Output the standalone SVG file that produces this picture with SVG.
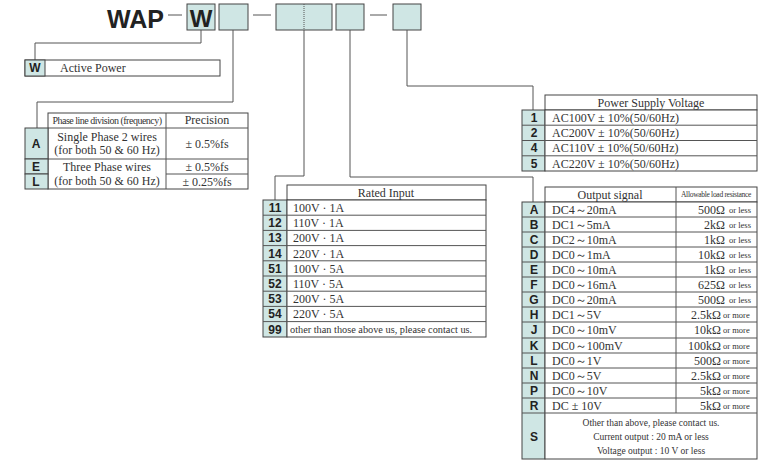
<svg xmlns="http://www.w3.org/2000/svg" width="768" height="469" viewBox="0 0 768 469">
<style>
.c{fill:#cfe6e4;stroke:#444;stroke-width:1}
.b{fill:#fff;stroke:#444;stroke-width:1}
.l{fill:none;stroke:#555;stroke-width:1}
.k{font-family:"Liberation Sans",Arial,sans-serif;font-weight:bold;font-size:12px;fill:#222;text-anchor:middle}
.t{font-family:"Liberation Serif","Times New Roman",serif;font-size:12px;fill:#333}
.m{text-anchor:middle}
</style>
<rect width="768" height="469" fill="#fff"/>
<g id="code">
<text x="107" y="28" font-family="Liberation Sans,Arial,sans-serif" font-weight="bold" font-size="25" fill="#222">WAP</text>
<line x1="168" y1="15" x2="182" y2="15" class="l"/>
<rect x="187" y="4" width="28" height="26" class="c"/>
<text x="201" y="27" font-family="Liberation Sans,Arial,sans-serif" font-weight="bold" font-size="24" fill="#222" text-anchor="middle">W</text>
<rect x="219" y="4" width="29" height="26" class="c"/>
<line x1="253" y1="15" x2="271" y2="15" class="l"/>
<rect x="276" y="4" width="56" height="26" class="c"/>
<line x1="304" y1="4" x2="304" y2="30" stroke="#555" stroke-dasharray="1,1"/>
<rect x="336" y="4" width="28" height="26" class="c"/>
<line x1="370" y1="15" x2="387" y2="15" class="l"/>
<rect x="393" y="4" width="28" height="26" class="c"/>
</g>
<g id="connectors">
<polyline points="201,30 201,43 35,43 35,60" class="l"/>
<polyline points="233,30 233,102 37,102 37,128" class="l"/>
<polyline points="304,30 304,176 275,176 275,200" class="l"/>
<polyline points="350,30 350,177 533,177 533,202" class="l"/>
<polyline points="407,30 407,86 533,86 533,110" class="l"/>
</g>
<g id="w-table">
<rect x="25" y="60" width="195" height="16" class="b"/>
<rect x="25" y="60" width="20" height="16" class="c"/>
<text x="35" y="72" class="k">W</text>
<text x="60" y="72" class="t">Active Power</text>
</g>
<g id="phase-table">
<rect x="48" y="113" width="200" height="76" class="b"/>
<line x1="48" y1="128" x2="248" y2="128" class="l"/>
<line x1="166" y1="113" x2="166" y2="189" class="l"/>
<line x1="48" y1="159" x2="248" y2="159" class="l"/>
<line x1="166" y1="174" x2="248" y2="174" class="l"/>
<rect x="25" y="128" width="23" height="31" class="c"/>
<rect x="25" y="159" width="23" height="15" class="c"/>
<rect x="25" y="174" width="23" height="15" class="c"/>
<text x="36" y="148" class="k">A</text>
<text x="36" y="171" class="k">E</text>
<text x="36" y="186" class="k">L</text>
<text x="107" y="124" class="t m" style="font-size:10px;letter-spacing:-0.5px">Phase line division (frequency)</text>
<text x="207" y="124" class="t m">Precision</text>
<text x="107" y="141" class="t m">Single Phase 2 wires</text>
<text x="107" y="154" class="t m">(for both 50 &amp; 60 Hz)</text>
<text x="207" y="148" class="t m">± 0.5%fs</text>
<text x="107" y="171" class="t m">Three Phase wires</text>
<text x="107" y="185" class="t m">(for both 50 &amp; 60 Hz)</text>
<text x="207" y="171" class="t m">± 0.5%fs</text>
<text x="207" y="186" class="t m">± 0.25%fs</text>
</g>
<g id="rated-input">
<rect x="287" y="185" width="199" height="15" class="b"/>
<text x="386" y="197" class="t m">Rated Input</text>
<rect x="263" y="200" width="24" height="137" class="c"/>
<rect x="287" y="200" width="199" height="137" class="b"/>
<path d="M263 215.2H486M263 230.4H486M263 245.6H486M263 260.8H486M263 276H486M263 291.2H486M263 306.4H486M263 321.6H486" class="l"/>
<g class="k"><text x="275" y="212">11</text><text x="275" y="227">12</text><text x="275" y="242">13</text><text x="275" y="258">14</text><text x="275" y="273">51</text><text x="275" y="288">52</text><text x="275" y="303">53</text><text x="275" y="318">54</text><text x="275" y="334">99</text></g>
<g class="t"><text x="293" y="212">100V · 1A</text><text x="293" y="227">110V · 1A</text><text x="293" y="242">200V · 1A</text><text x="293" y="258">220V · 1A</text><text x="293" y="273">100V · 5A</text><text x="293" y="288">110V · 5A</text><text x="293" y="303">200V · 5A</text><text x="293" y="318">220V · 5A</text><text x="290" y="333" style="font-size:10.3px">other than those above us, please contact us.</text></g>
</g>
<g id="power-supply">
<rect x="545" y="95" width="212" height="15" class="b"/>
<text x="651" y="107" class="t m">Power Supply Voltage</text>
<rect x="522" y="110" width="23" height="61" class="c"/>
<rect x="545" y="110" width="212" height="61" class="b"/>
<path d="M522 125.2H757M522 140.5H757M522 155.8H757" class="l"/>
<g class="k"><text x="534" y="122">1</text><text x="534" y="137">2</text><text x="534" y="152">4</text><text x="534" y="168">5</text></g>
<g class="t"><text x="552" y="122">AC100V ± 10%(50/60Hz)</text><text x="552" y="137">AC200V ± 10%(50/60Hz)</text><text x="552" y="152">AC110V ± 10%(50/60Hz)</text><text x="552" y="168">AC220V ± 10%(50/60Hz)</text></g>
</g>
<g id="output-signal">
<rect x="545" y="187" width="212" height="15" class="b"/>
<text x="610" y="199" class="t m">Output signal</text>
<text x="716" y="197" class="t m" style="font-size:7.5px;letter-spacing:-0.3px">Allowable load resistance</text>
<rect x="522" y="202" width="23" height="257" class="c"/>
<rect x="545" y="202" width="212" height="257" class="b"/>
<line x1="676" y1="187" x2="676" y2="413" class="l"/>
<path d="M522 217H757M522 232H757M522 247H757M522 262H757M522 277H757M522 292H757M522 307H757M522 322H757M522 338H757M522 353H757M522 368H757M522 383H757M522 398H757M522 413H757" class="l"/>
<g class="k"><text x="534" y="214">A</text><text x="534" y="229">B</text><text x="534" y="244">C</text><text x="534" y="259">D</text><text x="534" y="274">E</text><text x="534" y="289">F</text><text x="534" y="304">G</text><text x="534" y="319">H</text><text x="534" y="334">J</text><text x="534" y="350">K</text><text x="534" y="365">L</text><text x="534" y="380">N</text><text x="534" y="395">P</text><text x="534" y="410">R</text><text x="534" y="441">S</text></g>
<g class="t"><text x="552" y="214">DC4～20mA</text><text x="552" y="229">DC1～5mA</text><text x="552" y="244">DC2～10mA</text><text x="552" y="259">DC0～1mA</text><text x="552" y="274">DC0～10mA</text><text x="552" y="289">DC0～16mA</text><text x="552" y="304">DC0～20mA</text><text x="552" y="319">DC1～5V</text><text x="552" y="334">DC0～10mV</text><text x="552" y="350">DC0～100mV</text><text x="552" y="365">DC0～1V</text><text x="552" y="380">DC0～5V</text><text x="552" y="395">DC0～10V</text><text x="552" y="410">DC ± 10V</text></g>
<g class="t" text-anchor="end"><text x="725" y="214">500Ω</text><text x="725" y="229">2kΩ</text><text x="725" y="244">1kΩ</text><text x="725" y="259">10kΩ</text><text x="725" y="274">1kΩ</text><text x="725" y="289">625Ω</text><text x="725" y="304">500Ω</text><text x="721" y="319">2.5kΩ</text><text x="721" y="334">10kΩ</text><text x="721" y="350">100kΩ</text><text x="721" y="365">500Ω</text><text x="721" y="380">2.5kΩ</text><text x="721" y="395">5kΩ</text><text x="721" y="410">5kΩ</text></g>
<g class="t" style="font-size:8.5px"><text x="729" y="213">or less</text><text x="729" y="228">or less</text><text x="729" y="243">or less</text><text x="729" y="258">or less</text><text x="729" y="273">or less</text><text x="729" y="288">or less</text><text x="729" y="303">or less</text><text x="723" y="318">or more</text><text x="723" y="333">or more</text><text x="723" y="349">or more</text><text x="723" y="364">or more</text><text x="723" y="379">or more</text><text x="723" y="394">or more</text><text x="723" y="409">or more</text></g>
<g class="t m" style="font-size:9.5px"><text x="651" y="426">Other than above, please contact us.</text><text x="651" y="440">Current output : 20 mA or less</text><text x="651" y="454">Voltage output : 10 V or less</text></g>
</g>
</svg>
